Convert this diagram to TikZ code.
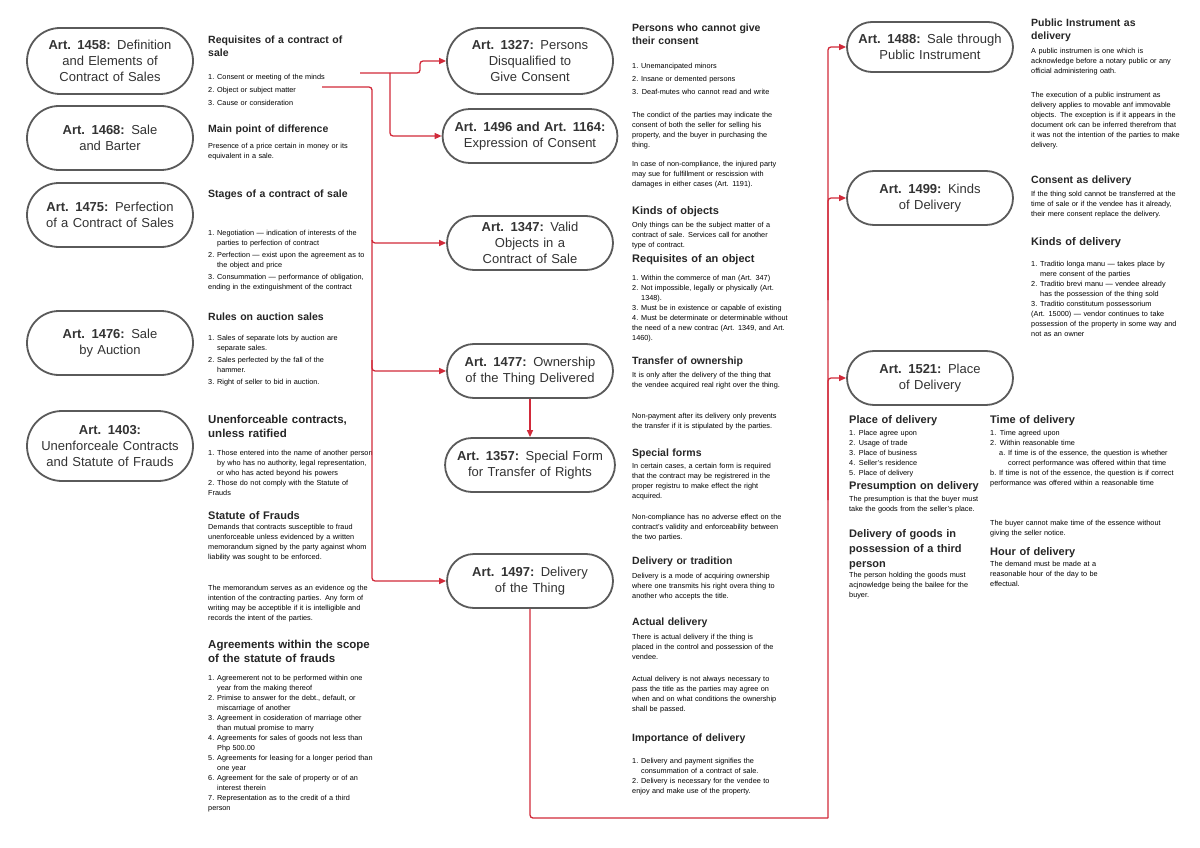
\documentclass[tikz,border=0pt]{standalone}
\usepackage{fontspec}
\setmainfont{Liberation Sans}
\usetikzlibrary{shapes.misc,arrows.meta}
\definecolor{conred}{HTML}{D12A3A}
\definecolor{artgray}{HTML}{5A5A5A}
\hyphenpenalty=10000
\exhyphenpenalty=10000
\newcommand\litem[2]{\par\hangindent=9pt\hangafter=1\noindent\makebox[9pt][l]{#1}#2}
\begin{document}
\begin{tikzpicture}[x=1pt,y=-1pt,
  art/.style={rounded rectangle, draw=artgray, line width=1.8pt, minimum width=168pt, minimum height=54pt, text width=142pt, align=center, font=\fontsize{13}{16}\selectfont, inner sep=1pt, text=black!80},
  head/.style={anchor=north west, inner sep=0pt, text width=#1, align=left, font=\bfseries\fontsize{10.5}{13}\selectfont, text=black!85},
  head/.default=160pt,
  body/.style={anchor=north west, inner sep=0pt, text width=#1, align=left, font=\fontsize{7.3}{10}\selectfont},
  body/.default=158pt,
  conn/.style={draw=conred, line width=1.3pt, -{Triangle[length=7pt,width=6pt]}, rounded corners=3pt},
  line/.style={draw=conred, line width=1.3pt, rounded corners=3pt}]
\useasboundingbox (0,0) rectangle (1200,848);
\fill[white] (0,0) rectangle (1200,848);

% Article nodes
\node[art, minimum height=66pt] (n1458) at (110,61) {\textbf{Art. 1458:} Definition and Elements of Contract of Sales};
\node[art, minimum height=64pt] (n1468) at (110,138) {\textbf{Art. 1468:} Sale and Barter};
\node[art, minimum height=64pt] (n1475) at (110,215) {\textbf{Art. 1475:} Perfection of a Contract of Sales};
\node[art, minimum height=64pt] (n1476) at (110,343) {\textbf{Art. 1476:} Sale by Auction};
\node[art, minimum height=70pt] (n1403) at (110,446) {\textbf{Art. 1403:}\\ Unenforceale Contracts and Statute of Frauds};
\node[art, minimum height=66pt] (n1327) at (530,61) {\textbf{Art. 1327:} Persons Disqualified to Give Consent};
\node[art, text width=165pt] (n1496) at (530,136) {\textbf{Art. 1496 and Art. 1164:}\\ Expression of Consent};
\node[art] (n1347) at (530,243) {\textbf{Art. 1347:} Valid Objects in a Contract of Sale};
\node[art] (n1477) at (530,371) {\textbf{Art. 1477:} Ownership of the Thing Delivered};
\node[art, text width=160pt] (n1357) at (530,465) {\textbf{Art. 1357:} Special Form\\ for Transfer of Rights};
\node[art] (n1497) at (530,581) {\textbf{Art. 1497:} Delivery of the Thing};
\node[art, minimum height=50pt, text width=150pt] (n1488) at (930,47) {\textbf{Art. 1488:} Sale through Public Instrument};
\node[art, text width=130pt] (n1499) at (930,198) {\textbf{Art. 1499:} Kinds of Delivery};
\node[art, text width=130pt] (n1521) at (930,378) {\textbf{Art. 1521:} Place of Delivery};

% Left column texts
\node[head=140pt] (t1) at (208,36) {Requisites of a contract of sale};
\node[body] (t1b) at (208,69) {\litem{1.}{Consent or meeting of the minds}\par\vspace{3pt}\litem{2.}{Object or subject matter}\par\vspace{3pt}\litem{3.}{Cause or consideration}};
\node[head] (t2) at (208,125) {Main point of difference};
\node[body=145pt] (t2b) at (208,143) {Presence of a price certain in money or its equivalent in a sale.};
\node[head=140pt] (t3) at (208,190) {Stages of a contract of sale};
\node[body=162pt] (t3b) at (208,225) {\litem{1.}{Negotiation --- indication of interests of the parties to perfection of contract}\par\vspace{2pt}\litem{2.}{Perfection --- exist upon the agreement as to the object and price}\par\vspace{2pt}\litem{3.}{Consummation --- performance of obligation, ending in the extinguishment of the contract}};
\node[head] (t4) at (208,313) {Rules on auction sales};
\node[body=145pt] (t4b) at (208,330) {\litem{1.}{Sales of separate lots by auction are separate sales.}\par\vspace{2pt}\litem{2.}{Sales perfected by the fall of the hammer.}\par\vspace{2pt}\litem{3.}{Right of seller to bid in auction.}};
\node[head=150pt, font=\bfseries\fontsize{11.5}{14}\selectfont] (t5) at (208,415) {Unenforceable contracts, unless ratified};
\node[body=165pt] (t5b) at (208,445) {\litem{1.}{Those entered into the name of another person by who has no authority, legal representation, or who has acted beyond his powers}\litem{2.}{Those do not comply with the Statute of Frauds}};
\node[head, font=\bfseries\fontsize{11}{13}\selectfont] (t6) at (208,511) {Statute of Frauds};
\node[body=162pt] (t6b) at (208,524) {Demands that contracts susceptible to fraud\ unenforceable unless evidenced by a written memorandum signed by the party against whom liability was sought to be enforced.};
\node[body=162pt] (t6c) at (208,585) {The memorandum serves as an evidence og the intention of the contracting parties. Any form of writing may be acceptible if it is intelligible and records the intent of the parties.};
\node[head=165pt, font=\bfseries\fontsize{11.5}{14}\selectfont] (t7) at (208,640) {Agreements within the scope of the statute of frauds};
\node[body=165pt] (t7b) at (208,670) {\litem{1.}{Agreemerent not to be performed within one year from the making thereof}\litem{2.}{Primise to answer for the debt., default, or miscarriage of another}\litem{3.}{Agreement in cosideration of marriage other than mutual promise to marry}\litem{4.}{Agreements for sales of goods not less than Php 500.00}\litem{5.}{Agreements for leasing for a longer period than one year}\litem{6.}{Agreement for the sale of property or of an interest therein}\litem{7.}{Representation as to the credit of\ a third person}};

% Middle column texts
\node[head=140pt] (m1) at (632,24) {Persons who cannot give their consent};
\node[body=150pt] (m1b) at (632,58) {\litem{1.}{Unemancipated minors}\par\vspace{3pt}\litem{2.}{Insane or demented persons}\par\vspace{3pt}\noindent 3. Deaf-mutes who cannot read and write};
\node[body=150pt] (m2) at (632,112) {The condict of the parties may indicate the consent of both the seller for selling his property, and the buyer in purchasing the thing.};
\node[body=150pt] (m2b) at (632,161) {In case of non-compliance, the injured party may sue for fulfillment or rescission with damages in either cases (Art. 1191).};
\node[head, font=\bfseries\fontsize{11}{13}\selectfont] (m3) at (632,206) {Kinds of objects};
\node[body=150pt] (m3b) at (632,222) {Only things can be the subject matter of a contract of sale. Services call for another type of contract.};
\node[head, font=\bfseries\fontsize{11}{13}\selectfont] (m4) at (632,254) {Requisites of an object};
\node[body=158pt] (m4b) at (632,270) {\litem{1.}{Within the commerce of man (Art. 347)}\litem{2.}{Not impossible, legally or physically (Art. 1348).}\litem{3.}{Must be in existence or capable of existing}\litem{4.}{Must be determinate or determinable without the need of a new contrac (Art. 1349, and Art. 1460).}};
\node[head] (m5) at (632,357) {Transfer of ownership};
\node[body=148pt] (m5b) at (632,372) {It is only after the delivery of the thing that the vendee acquired real right over the thing.};
\node[body=148pt] (m5c) at (632,413) {Non-payment after its delivery only prevents the transfer if it is stipulated by the parties.};
\node[head] (m6) at (632,449) {Special forms};
\node[body=145pt] (m6b) at (632,463) {In certain cases, a certain form is required that the contract may be registrered in the proper registru to make effect the right acquired.};
\node[body=152pt] (m6c) at (632,514) {Non-compliance has no adverse effect on the contract's validity and enforceability between the two parties.};
\node[head] (m7) at (632,557) {Delivery or tradition};
\node[body=145pt] (m7b) at (632,573) {Delivery is a mode of acquiring ownership where one transmits his right overa thing to another who accepts the title.};
\node[head] (m8) at (632,618) {Actual delivery};
\node[body=145pt] (m8b) at (632,634) {There is actual delivery if the thing is placed in the control and possession of the vendee.};
\node[body=152pt] (m8c) at (632,676) {Actual delivery is not always necessary to pass the title as the parties may agree on when and on what conditions the ownership shall be passed.};
\node[head] (m9) at (632,734) {Importance of delivery};
\node[body=155pt] (m9b) at (632,753) {\litem{1.}{Delivery and payment signifies the consummation of\ a contract of sale.}\litem{2.}{Delivery is necessary for the vendee to enjoy and make use of the property.}};

% Right column texts
\node[head=125pt] (r1) at (1031,19) {Public Instrument as delivery};
\node[body=150pt] (r1b) at (1031,48) {A public instrumen is one which is acknowledge before a notary public or any official administering oath.};
\node[body=150pt] (r1c) at (1031,92) {The execution of a public instrument as delivery applies to movable anf immovable objects. The exception is if it appears in the document ork can be inferred therefrom that it was not the intention of the parties to make delivery.};
\node[head] (r2) at (1031,176) {Consent as delivery};
\node[body=150pt] (r2b) at (1031,191) {If the thing sold cannot be transferred at the time of sale or if the vendee has it already, their mere consent replace the delivery.};
\node[head, font=\bfseries\fontsize{11}{13}\selectfont] (r3) at (1031,237) {Kinds of delivery};
\node[body=148pt] (r3b) at (1031,256) {\litem{1.}{Traditio longa manu --- takes place by mere consent of the parties}\litem{2.}{Traditio brevi manu --- vendee already has the possession of the thing sold}\litem{3.}{Traditio constitutum possessorium (Art. 15000) --- vendor continues to take possession of the property in some way and not as an owner}};

% Bottom right texts
\node[head=140pt, font=\bfseries\fontsize{11}{13}\selectfont] (b1) at (849,415) {Place of delivery};
\node[body=135pt] (b1b) at (849,430) {1. Place agree upon\\2. Usage of trade\\3. Place of business\\4. Seller's residence\\5. Place of delivery};
\node[head=140pt, font=\bfseries\fontsize{11}{13}\selectfont] (b2) at (849,481) {Presumption on delivery};
\node[body=135pt] (b2b) at (849,496) {The presumption is that the buyer must take the goods from the seller's place.};
\node[head=130pt, font=\bfseries\fontsize{11}{15}\selectfont] (b3) at (849,529) {Delivery of goods in possession of a third person};
\node[body=140pt] (b3b) at (849,572) {The person holding the goods must acjnowledge being the bailee for the buyer.};
\node[head=150pt, font=\bfseries\fontsize{11}{13}\selectfont] (c1h) at (990,415) {Time of delivery};
\node[body=195pt] (c1b) at (990,430) {1. Time agreed upon\\2. Within reasonable time\par\leftskip=9pt\litem{a.}{If time is of the essence, the question is whether correct performance was offered within that time}\litem{b.}{If time is not of the essence, the question is if correct performance was offered within a reasonable time}};
\node[body=175pt] (c2b) at (990,520) {The buyer cannot make time of the essence without giving the seller notice.};
\node[head, font=\bfseries\fontsize{11}{13}\selectfont] (c3h) at (990,547) {Hour of delivery};
\node[body=130pt] (c3b) at (990,561) {The demand must be made at a reasonable hour of the day to be effectual.};

% Connectors
\coordinate (s1) at (360,73);
\coordinate (s2) at (322,87);
\coordinate (j1) at (390,73);
\coordinate (j2) at (372,240);
\coordinate (j3) at (372,360);
\coordinate (k0) at (828,818);
\coordinate (k1) at (828,300);
\coordinate (k2) at (828,500);
\draw[conn] (s1) -- (420,73) |- (n1327.west);
\draw[conn] (j1) |- (n1496.west);
\draw[conn] (s2) -- (372,87) |- (n1347.west);
\draw[conn] (j2) |- (n1477.west);
\draw[conn] (j3) |- (n1497.west);
\draw[conn] (n1477.south) -- (n1357.north);
\draw[line] (n1497.south) |- (k0);
\draw[conn] (k0) |- (n1488.west);
\draw[conn] (k1) |- (n1499.west);
\draw[conn] (k2) |- (n1521.west);
\end{tikzpicture}
\end{document}
